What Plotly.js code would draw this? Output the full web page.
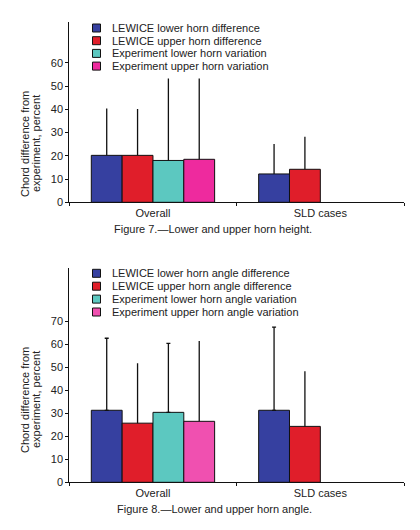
<!DOCTYPE html>
<html><head><meta charset="utf-8">
<script src="https://cdn.plot.ly/plotly-3.0.1.min.js"></script>
<style>body{margin:0;background:#fff}#chart{width:420px;height:530px}</style>
</head><body><div id="chart"></div>
<script>
// ---- data ----
const categories = ["Overall", "SLD cases"];

const fig7Names = ["LEWICE lower horn difference", "LEWICE upper horn difference",
                   "Experiment lower horn variation", "Experiment upper horn variation"];
const fig7LewiceLower = [20.2, 12.2];
const fig7LewiceLowerMax = [40.4, 25.1];
const fig7LewiceUpper = [20.2, 14.2];
const fig7LewiceUpperMax = [40.1, 28.2];
const fig7ExpLower = [18.0, null];
const fig7ExpLowerMax = [53.3, null];
const fig7ExpUpper = [18.5, null];
const fig7ExpUpperMax = [53.3, null];
const fig7Ticks = [0, 10, 20, 30, 40, 50, 60];

const fig8Names = ["LEWICE lower horn angle difference", "LEWICE upper horn angle difference",
                   "Experiment lower horn angle variation", "Experiment upper horn angle variation"];
const fig8LewiceLower = [31.3, 31.3];
const fig8LewiceLowerMax = [62.6, 67.4];
const fig8LewiceUpper = [25.7, 24.3];
const fig8LewiceUpperMax = [51.7, 48.3];
const fig8ExpLower = [30.4, null];
const fig8ExpLowerMax = [60.4, null];
const fig8ExpUpper = [26.5, null];
const fig8ExpUpperMax = [61.4, null];
const fig8Ticks = [0, 10, 20, 30, 40, 50, 60, 70];

const yTitleLines = ["Chord difference from", "experiment, percent"];
const fig7Caption = "Figure 7.\u2014Lower and upper horn height.";
const fig8Caption = "Figure 8.\u2014Lower and upper horn angle.";

// ---- styling ----
const W = 420, H = 530;
const px = x => x / W;
const py = y => 1 - y / H;
const FONT = {family: "Liberation Sans, Arial, sans-serif", size: 11, color: "#222"};
const fig7Colors = ["#3640a0", "#e01e2a", "#5cc8c0", "#ee2a9e"];
const fig8Colors = ["#3640a0", "#e01e2a", "#5cc8c0", "#f050b0"];

function plus(vals, maxs) { return vals.map((v, i) => (v == null || maxs[i] == null) ? null : maxs[i] - v); }

function makeTraces(xa, ya, names, colors, vals, maxs, caps) {
  return vals.map((v, i) => ({
    type: "bar", x: categories, y: v, name: names[i], xaxis: xa, yaxis: ya,
    showlegend: false,
    marker: {color: colors[i], line: {color: "#111", width: 1}},
    error_y: {type: "data", symmetric: false, array: plus(v, maxs[i]),
              arrayminus: v.map(() => 0), color: "#111", thickness: 1.3, width: caps[i]}
  }));
}

const traces = [
  ...makeTraces("x", "y", fig7Names, fig7Colors,
    [fig7LewiceLower, fig7LewiceUpper, fig7ExpLower, fig7ExpUpper],
    [fig7LewiceLowerMax, fig7LewiceUpperMax, fig7ExpLowerMax, fig7ExpUpperMax], [0, 0, 0, 0]),
  ...makeTraces("x2", "y2", fig8Names, fig8Colors,
    [fig8LewiceLower, fig8LewiceUpper, fig8ExpLower, fig8ExpUpper],
    [fig8LewiceLowerMax, fig8LewiceUpperMax, fig8ExpLowerMax, fig8ExpUpperMax], [2, 0, 2, 0])
];

const xCommon = {
  type: "category", range: [-0.5, 1.5], domain: [px(69.3), px(404)],
  showline: true, linecolor: "#111", linewidth: 1, ticks: "outside", tickson: "boundaries",
  ticklen: 3, tickcolor: "#111", showgrid: false, zeroline: false, automargin: false,
  tickfont: FONT, fixedrange: true
};
const yCommon = {
  showline: true, linecolor: "#111", linewidth: 1, ticks: "outside", ticklen: 3,
  tickcolor: "#111", showgrid: false, zeroline: false, automargin: false,
  tickfont: FONT, tickmode: "array", fixedrange: true
};

const shapes = [], annotations = [];
function legend(names, colors, rowY0, rowStep) {
  names.forEach((n, i) => {
    const cy = rowY0 + i * rowStep;
    shapes.push({type: "rect", xref: "paper", yref: "paper",
      x0: px(92.5), x1: px(100.5), y0: py(cy + 4), y1: py(cy - 4),
      fillcolor: colors[i], line: {color: "#111", width: 1}});
    annotations.push({xref: "paper", yref: "paper", x: px(110), y: py(cy),
      xanchor: "left", yanchor: "middle", text: n, showarrow: false, font: FONT});
  });
}
legend(fig7Names, fig7Colors, 28, 12.7);
legend(fig8Names, fig8Colors, 273.3, 12.9);

function yTitle(centerY) {
  yTitleLines.forEach((t, i) => annotations.push({xref: "paper", yref: "paper",
    x: px(25 + i * 11), y: py(centerY), xanchor: "center", yanchor: "middle",
    text: t, textangle: -90, showarrow: false, font: FONT}));
}
yTitle(144);
yTitle(400);

annotations.push({xref: "paper", yref: "paper", x: px(213), y: py(229.3), xanchor: "center",
  yanchor: "middle", text: fig7Caption, showarrow: false, font: FONT});
annotations.push({xref: "paper", yref: "paper", x: px(215), y: py(509), xanchor: "center",
  yanchor: "middle", text: fig8Caption, showarrow: false, font: FONT});

const layout = {
  width: W, height: H, margin: {l: 0, r: 0, t: 0, b: 0},
  paper_bgcolor: "#fff", plot_bgcolor: "#fff", font: FONT,
  barmode: "group", bargap: 0.263, bargroupgap: 0, showlegend: false,
  xaxis: Object.assign({}, xCommon, {anchor: "y"}),
  yaxis: Object.assign({}, yCommon, {anchor: "x", domain: [py(202.3), py(21.7)],
    range: [0, 77.7], tickvals: fig7Ticks}),
  xaxis2: Object.assign({}, xCommon, {anchor: "y2"}),
  yaxis2: Object.assign({}, yCommon, {anchor: "x2", domain: [py(482.3), py(268.3)],
    range: [0, 93], tickvals: fig8Ticks}),
  shapes, annotations
};

Plotly.newPlot("chart", traces, layout, {displayModeBar: false, staticPlot: true});
</script></body></html>
